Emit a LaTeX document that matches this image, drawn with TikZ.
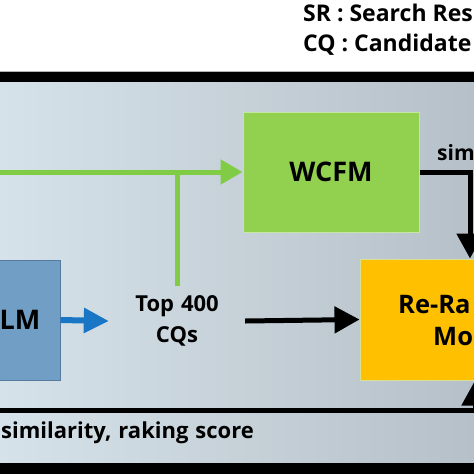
\documentclass[tikz,border=0pt]{standalone}
\usepackage{fontspec}
\setmainfont{Open Sans}
\usetikzlibrary{arrows.meta}
\definecolor{gline}{RGB}{128,204,68}
\definecolor{wcfmfill}{RGB}{146,208,80}
\definecolor{wcfmedge}{RGB}{196,230,160}
\definecolor{rrfill}{RGB}{255,192,0}
\definecolor{rredge}{RGB}{215,225,150}
\definecolor{lmfill}{RGB}{112,158,196}
\definecolor{lmedge}{RGB}{84,122,160}
\definecolor{barrow}{RGB}{24,118,196}
\definecolor{bgL}{RGB}{214,226,233}
\definecolor{bgR}{RGB}{182,192,200}
\newcommand{\mywidesp}{\spaceskip=7pt\relax}
\begin{document}
\begin{tikzpicture}[x=1pt,y=-1pt,
  lbl/.style={font={\bfseries\fontsize{22}{31}\selectfont\mywidesp}, text=black, inner sep=0pt},
  simstyle/.style={font={\bfseries\fontsize{21}{31}\selectfont}, text=black, inner sep=0pt},
  hdr/.style={font={\bfseries\fontsize{23}{30}\selectfont}, text=black, inner sep=0pt},
  boxlbl/.style={font={\bfseries\fontsize{27}{32}\selectfont}, text=black},
  rrlbl/.style={font={\bfseries\fontsize{25.5}{32}\selectfont}, text=black, inner sep=0pt},
  blk/.style={line width=5pt, draw=black},
  blktip/.style={-{Triangle[length=25pt,width=26pt]}},
  modbox/.style={rectangle, line width=1pt, inner sep=0pt}]
\useasboundingbox (0,0) rectangle (474,474);
\clip (0,0) rectangle (474,474);
\fill[white] (0,0) rectangle (474,474);
\fill[black!30] (0,70.5) rectangle (474,72);
\fill[black] (0,72) rectangle (474,82);
\shade[left color=bgL, right color=bgR] (0,82) rectangle (474,463);
\fill[black] (0,463) rectangle (474,474);

% header
\node[hdr, anchor=base west] (h1) at (303,21) {SR : Search Res};
\node[hdr, anchor=base west] (h2) at (303,51) {CQ : Candidate};

% modules
\node[modbox, fill=wcfmfill, draw=wcfmedge, minimum width=176pt, minimum height=120pt, boxlbl] (wcfm) at (331,172) {WCFM};
\node[modbox, fill=rrfill, draw=rredge, minimum width=250pt, minimum height=121pt] (rr) at (485,319.5) {};
\node[rrlbl, anchor=base west] (rrA) at (398,313) {Re-Ra};
\node[rrlbl, anchor=base west] (rrB) at (433,345) {Mo};
\node[modbox, fill=lmfill, draw=lmedge, minimum width=80pt, minimum height=120pt, boxlbl] (lm) at (20,320) {LM};
\node[lbl, align=center, minimum width=136pt, minimum height=70pt] (top) at (177,321) {Top 400\\CQs};

% green connectors
\coordinate (gstart) at (0,172);
\coordinate (gbr) at (177,172);
\draw[gline, line width=5pt, -{Triangle[length=22pt,width=24pt]}] (gstart) -- (wcfm.west);
\draw[gline, line width=5pt] (gbr) -- (top.north);

% blue connector
\draw[barrow, line width=6pt, -{Triangle[length=25pt,width=24pt]}] (lm.east) -- (top.west);

% black connectors
\draw[blk, blktip] (top.east) -- (rr.west);
\coordinate (c1) at (470,172);
\draw[blk, blktip] (wcfm.east) -- (c1) -- (c1 |- rr.north);
\coordinate (bstart) at (0,410);
\coordinate (c2) at (475,410);
\draw[blk, blktip] (bstart) -- (c2) -- (c2 |- rr.south);

% labels
\node[simstyle, anchor=base west] (simlbl) at (437,160) {sim};
\node[lbl, anchor=base west] (score) at (1,438) {similarity, raking score};
\end{tikzpicture}
\end{document}
